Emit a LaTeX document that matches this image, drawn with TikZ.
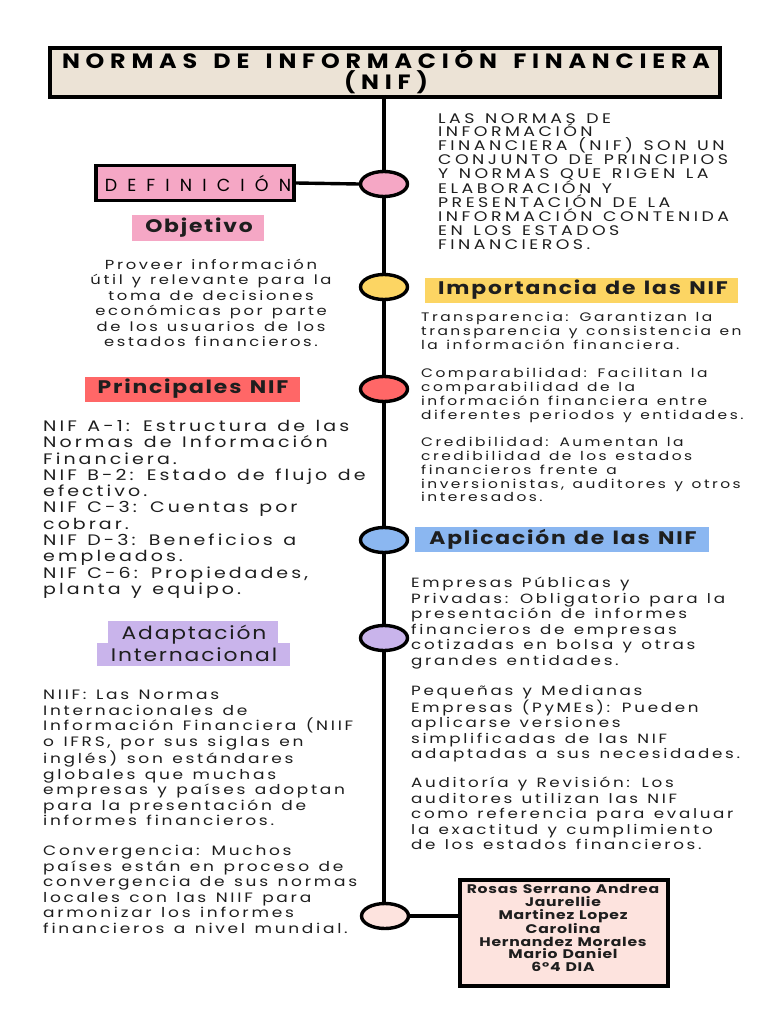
\documentclass[tikz,border=0pt]{standalone}
\usepackage{fontspec}
\usetikzlibrary{shapes.geometric}
\setmainfont{Poppins}
\newfontfamily\bodyf[FakeStretch=1.25,LetterSpace=20,WordSpace=1.3]{Poppins}
\newfontfamily\capsf[FakeStretch=1.25,LetterSpace=25,WordSpace=1.3]{Poppins}
\newfontfamily\titlef[FakeStretch=1.15,LetterSpace=28,WordSpace=1.5]{Poppins}
\newfontfamily\deff[LetterSpace=58]{Poppins}
\newfontfamily\headf[FakeStretch=1.2,LetterSpace=10,WordSpace=1.3]{Poppins}
\newfontfamily\namef[FakeStretch=1.25,LetterSpace=6,WordSpace=1.2]{Poppins}
\definecolor{titlebg}{HTML}{ECE3D6}
\definecolor{cpink}{HTML}{F5A7C5}
\definecolor{cyellow}{HTML}{FCD563}
\definecolor{cred}{HTML}{FF6767}
\definecolor{cblue}{HTML}{8BB7F1}
\definecolor{cpurple}{HTML}{C9B4EB}
\definecolor{clight}{HTML}{FDE3DE}
\definecolor{ink}{HTML}{1E1E1E}
\tikzset{
  dot/.style={ellipse, draw=black, line width=3.4pt, minimum width=47pt, minimum height=25pt, inner sep=0pt},
  headlbl/.style={inner sep=0pt, font=\headf\bfseries\fontsize{18.2}{19}\selectfont, text=ink},
  body/.style={inner sep=0pt, anchor=north west, align=left, text=ink},
  thick line/.style={line width=3.4pt, black}
}
\begin{document}
\begin{tikzpicture}[x=1pt,y=-1pt]
\useasboundingbox[fill=white] (0,0) rectangle (768,1024);
% title
\node[draw=black, line width=3.8pt, fill=titlebg, minimum width=670pt, minimum height=49pt, anchor=north west, inner sep=0pt] (title) at (48,46) {};
\node[inner sep=0pt, align=center, font=\titlef\bfseries\fontsize{20.7}{20.5}\selectfont] (titletext) at (386,71) {NORMAS DE INFORMACIÓN FINANCIERA\\(NIF)};
% circles
\node[dot, fill=cpink] (c1) at (384,184) {};
\node[dot, fill=cyellow] (c2) at (384,287) {};
\node[dot, fill=cred] (c3) at (384,389) {};
\node[dot, fill=cblue] (c4) at (384,540) {};
\node[dot, fill=cpurple] (c5) at (384,638) {};
\node[dot, fill=clight] (c6) at (385,916) {};
\coordinate (ltop) at (384,95);
\coordinate (lbot) at (384,903);
\draw[thick line] (ltop) -- (c1.north);
\draw[thick line] (c1.south) -- (c2.north);
\draw[thick line] (c2.south) -- (c3.north);
\draw[thick line] (c3.south) -- (c4.north);
\draw[thick line] (c4.south) -- (c5.north);
\draw[thick line] (c5.south) -- (lbot);
% Definicion
\node[draw=black, line width=3.8pt, fill=cpink, minimum width=198pt, minimum height=35pt, inner sep=0pt] (def) at (195,183) {};
\node[inner sep=0pt, font=\deff\fontsize{17.5}{17.5}\selectfont] (deftext) at (198,183) {DEFINICIÓN};
\draw[thick line] (def.east) -- (c1.west);
\node[body, font=\capsf\fontsize{13.9}{13.8}\selectfont] (deftxt) at (438,113) {LAS NORMAS DE\\INFORMACIÓN\\FINANCIERA (NIF) SON UN\\CONJUNTO DE PRINCIPIOS\\Y NORMAS QUE RIGEN LA\\ELABORACIÓN Y\\PRESENTACIÓN DE LA\\INFORMACIÓN CONTENIDA\\EN LOS ESTADOS\\FINANCIEROS.};
% Objetivo
\node[fill=cpink, minimum width=132pt, minimum height=25pt, inner sep=0pt] (objbox) at (198,228) {};
\node[headlbl] (obj) at (199,228) {Objetivo};
\node[inner sep=0pt, align=center, anchor=north, text=ink, font=\bodyf\fontsize{13.1}{15.4}\selectfont] (objtxt) at (211,259) {Proveer información\\útil y relevante para la\\toma de decisiones\\económicas por parte\\de los usuarios de los\\estados financieros.};
% Importancia
\node[fill=cyellow, minimum width=313pt, minimum height=25pt, inner sep=0pt] (impbox) at (581,290) {};
\node[headlbl] (imp) at (583,290) {Importancia de las NIF};
\node[body, font=\bodyf\fontsize{12.35}{13.8}\selectfont] (imp1) at (421,312) {Transparencia: Garantizan la\\transparencia y consistencia en\\la información financiera.};
\node[body, font=\bodyf\fontsize{12.35}{13.8}\selectfont] (imp2) at (421,368) {Comparabilidad: Facilitan la\\comparabilidad de la\\información financiera entre\\diferentes periodos y entidades.};
\node[body, font=\bodyf\fontsize{12.35}{13.8}\selectfont] (imp3) at (421,437) {Credibilidad: Aumentan la\\credibilidad de los estados\\financieros frente a\\inversionistas, auditores y otros\\interesados.};
% Principales
\node[fill=cred, minimum width=215pt, minimum height=25pt, inner sep=0pt] (prinbox) at (192,389) {};
\node[headlbl] (prin) at (193,389) {Principales NIF};
\node[body, font=\bodyf\fontsize{15.2}{16.3}\selectfont] (printxt) at (43,420) {NIF A-1: Estructura de las\\Normas de Información\\Financiera.\\NIF B-2: Estado de flujo de\\efectivo.\\NIF C-3: Cuentas por\\cobrar.\\NIF D-3: Beneficios a\\empleados.\\NIF C-6: Propiedades,\\planta y equipo.};
% Aplicacion
\node[fill=cblue, minimum width=294pt, minimum height=25pt, inner sep=0pt] (aplbox) at (562,539) {};
\node[headlbl] (apl) at (563,539) {Aplicación de las NIF};
\node[body, font=\bodyf\fontsize{13.4}{15.5}\selectfont] (apl1) at (411,577) {Empresas Públicas y\\Privadas: Obligatorio para la\\presentación de informes\\financieros de empresas\\cotizadas en bolsa y otras\\grandes entidades.};
\node[body, font=\bodyf\fontsize{13.4}{15.5}\selectfont] (apl2) at (411,685) {Pequeñas y Medianas\\Empresas (PyMEs): Pueden\\aplicarse versiones\\simplificadas de las NIF\\adaptadas a sus necesidades.};
\node[body, font=\bodyf\fontsize{13.4}{15.5}\selectfont] (apl3) at (411,777) {Auditoría y Revisión: Los\\auditores utilizan las NIF\\como referencia para evaluar\\la exactitud y cumplimiento\\de los estados financieros.};
% Adaptacion
\node[fill=cpurple, minimum width=170pt, minimum height=23pt, inner sep=0pt] (adabox1) at (193,632) {};
\node[fill=cpurple, minimum width=193pt, minimum height=23pt, inner sep=0pt] (adabox2) at (193,654) {};
\node[inner sep=0pt, align=center, text=ink, font=\headf\fontsize{18.2}{22}\selectfont] (ada) at (194,643) {Adaptación\\Internacional};
\node[body, font=\bodyf\fontsize{13.6}{15.5}\selectfont] (ada1) at (43,690) {NIIF: Las Normas\\Internacionales de\\Información Financiera (NIIF\\o IFRS, por sus siglas en\\inglés) son estándares\\globales que muchas\\empresas y países adoptan\\para la presentación de\\informes financieros.};
\node[body, font=\bodyf\fontsize{13.6}{15.5}\selectfont] (ada2) at (43,845) {Convergencia: Muchos\\países están en proceso de\\convergencia de sus normas\\locales con las NIIF para\\armonizar los informes\\financieros a nivel mundial.};
% Names
\node[draw=black, line width=3.8pt, fill=clight, minimum width=208pt, minimum height=106pt, anchor=north west, inner sep=0pt] (names) at (458,878) {};
\node[inner sep=0pt, align=center, text=ink, font=\namef\bfseries\fontsize{12.5}{12.8}\selectfont] (namestxt) at (563,928) {Rosas Serrano Andrea\\Jaurellie\\Martinez Lopez\\Carolina\\Hernandez Morales\\Mario Daniel\\6°4 DIA};
\draw[thick line] (c6.east) -- (names.west |- c6.east);
\end{tikzpicture}
\end{document}
